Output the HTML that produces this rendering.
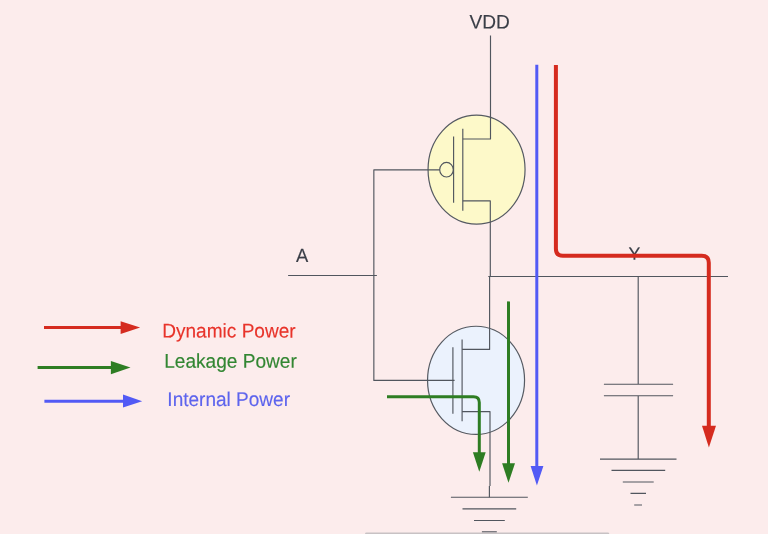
<!DOCTYPE html>
<html><head><meta charset="utf-8">
<style>
html,body{margin:0;padding:0;background:#fcecec;width:768px;height:534px;overflow:hidden}
svg{display:block;will-change:transform}
text{font-family:"Liberation Sans",sans-serif}
</style></head>
<body>
<svg width="768" height="534" viewBox="0 0 768 534">
<rect x="0" y="0" width="768" height="534" fill="#fcecec"/>
<!-- transistor bodies -->
<ellipse cx="476.55" cy="169.6" rx="48.5" ry="54.5" fill="#fdf9c9" stroke="#555a62" stroke-width="1.2"/>
<ellipse cx="476.05" cy="380.35" rx="48.5" ry="54.1" fill="#ebf2fd" stroke="#555a62" stroke-width="1.2"/>
<g fill="none" stroke="#51565e" stroke-width="1.15" stroke-linejoin="round">
<!-- VDD line + PMOS drain -->
<path d="M490.5 35.4V139H462.8"/>
<path d="M462.8 128.8V210.8"/>
<path d="M453.6 136.5V202.7"/>
<ellipse cx="446.5" cy="169.7" rx="6.8" ry="7.3"/>
<path d="M439.7 169.8H373.85V380.4H454.6"/>
<path d="M462.8 200.9H490.3V276.5"/>
<path d="M489.6 276.5V349.4H462.1"/>
<path d="M488.3 276.5H728"/>
<path d="M288.1 275.5H376.9"/>
<path d="M462.1 339.4V421.3"/>
<path d="M452.9 347.3V413.8"/>
<path d="M462.1 411.6H490V486"/>
<path d="M489.4 486V497.2"/>
<path d="M450.9 497.2H527.8M462.5 508.8H516.2M474 520.5H504.8M481.9 531.8H496.8"/>
<path d="M638.2 276.3V384.2M603.9 384.2H673.1M603.9 395.7H673.1M638.2 395.7V459.1"/>
<path d="M600 459.1H676.5M611.5 470.4H665.2M622.8 482H653.7M630.5 493.4H646M634.2 505H642"/>
</g>
<text transform="matrix(1.0 0.001 0 1.03 469.58 28.47)" font-size="19.1" fill="#3a3e47" stroke="#3a3e47" stroke-width="0.14">VDD</text>
<text transform="matrix(1.0 0.001 0 1.035 295.92 262.0)" font-size="18.4" fill="#3a3e47" stroke="#3a3e47" stroke-width="0.14">A</text>
<text transform="matrix(1.0 0.001 0 1.01 628.5 259.8)" font-size="17.8" fill="#3a3e47" stroke="#3a3e47" stroke-width="0.14">Y</text>
<!-- red dynamic path -->
<path d="M555.9 65V248.8Q555.9 255.8 562.9 255.8H701.8Q708.8 255.8 708.8 262.8V427" fill="none" stroke="#d52b1f" stroke-width="4"/>
<polygon points="702,425.8 716,425.8 708.9,447.6" fill="#d52b1f"/>
<!-- blue internal -->
<path d="M536.8 64.8V467" fill="none" stroke="#525af5" stroke-width="3"/>
<polygon points="530.6,466.1 543.4,466.1 536.9,485.6" fill="#525af5"/>
<!-- green leakage -->
<path d="M508.5 301.4V464" fill="none" stroke="#2e7d23" stroke-width="3"/>
<polygon points="502.1,463.2 515,463.2 508.5,482.8" fill="#2e7d23"/>
<path d="M387 396.7H473.5Q479.3 396.7 479.3 402.5V453" fill="none" stroke="#2e7d23" stroke-width="3"/>
<polygon points="472.9,452.3 485.7,452.3 479.3,471.7" fill="#2e7d23"/>
<!-- legend -->
<path d="M44 327.5H121" stroke="#d52b1f" stroke-width="3"/>
<polygon points="120.6,321.3 140.1,327.5 120.6,334.1" fill="#d52b1f"/>
<path d="M37.6 367.6H111" stroke="#2e7d23" stroke-width="3"/>
<polygon points="110.9,361 130.5,367.6 110.9,374.2" fill="#2e7d23"/>
<path d="M44.4 401.2H123" stroke="#525af5" stroke-width="3"/>
<polygon points="123,394.4 142.2,401.2 123,407.4" fill="#525af5"/>
<text transform="matrix(1.0 0.001 0 1.04 162.24 337.5)" font-size="19.06" fill="#e8332a" stroke="#e8332a" stroke-width="0.14">Dynamic Power</text>
<text transform="matrix(1.0 0.001 0 1.04 164.2 367.7)" font-size="19.1" fill="#328632" stroke="#328632" stroke-width="0.14">Leakage Power</text>
<text transform="matrix(1.0 0.001 0 1.04 167.35 405.9)" font-size="19.04" fill="#5d64ed" stroke="#5d64ed" stroke-width="0.14">Internal Power</text>
<rect x="365" y="532.6" width="244.3" height="3" rx="1.5" fill="#c8c2c4"/>
</svg>
</body></html>
